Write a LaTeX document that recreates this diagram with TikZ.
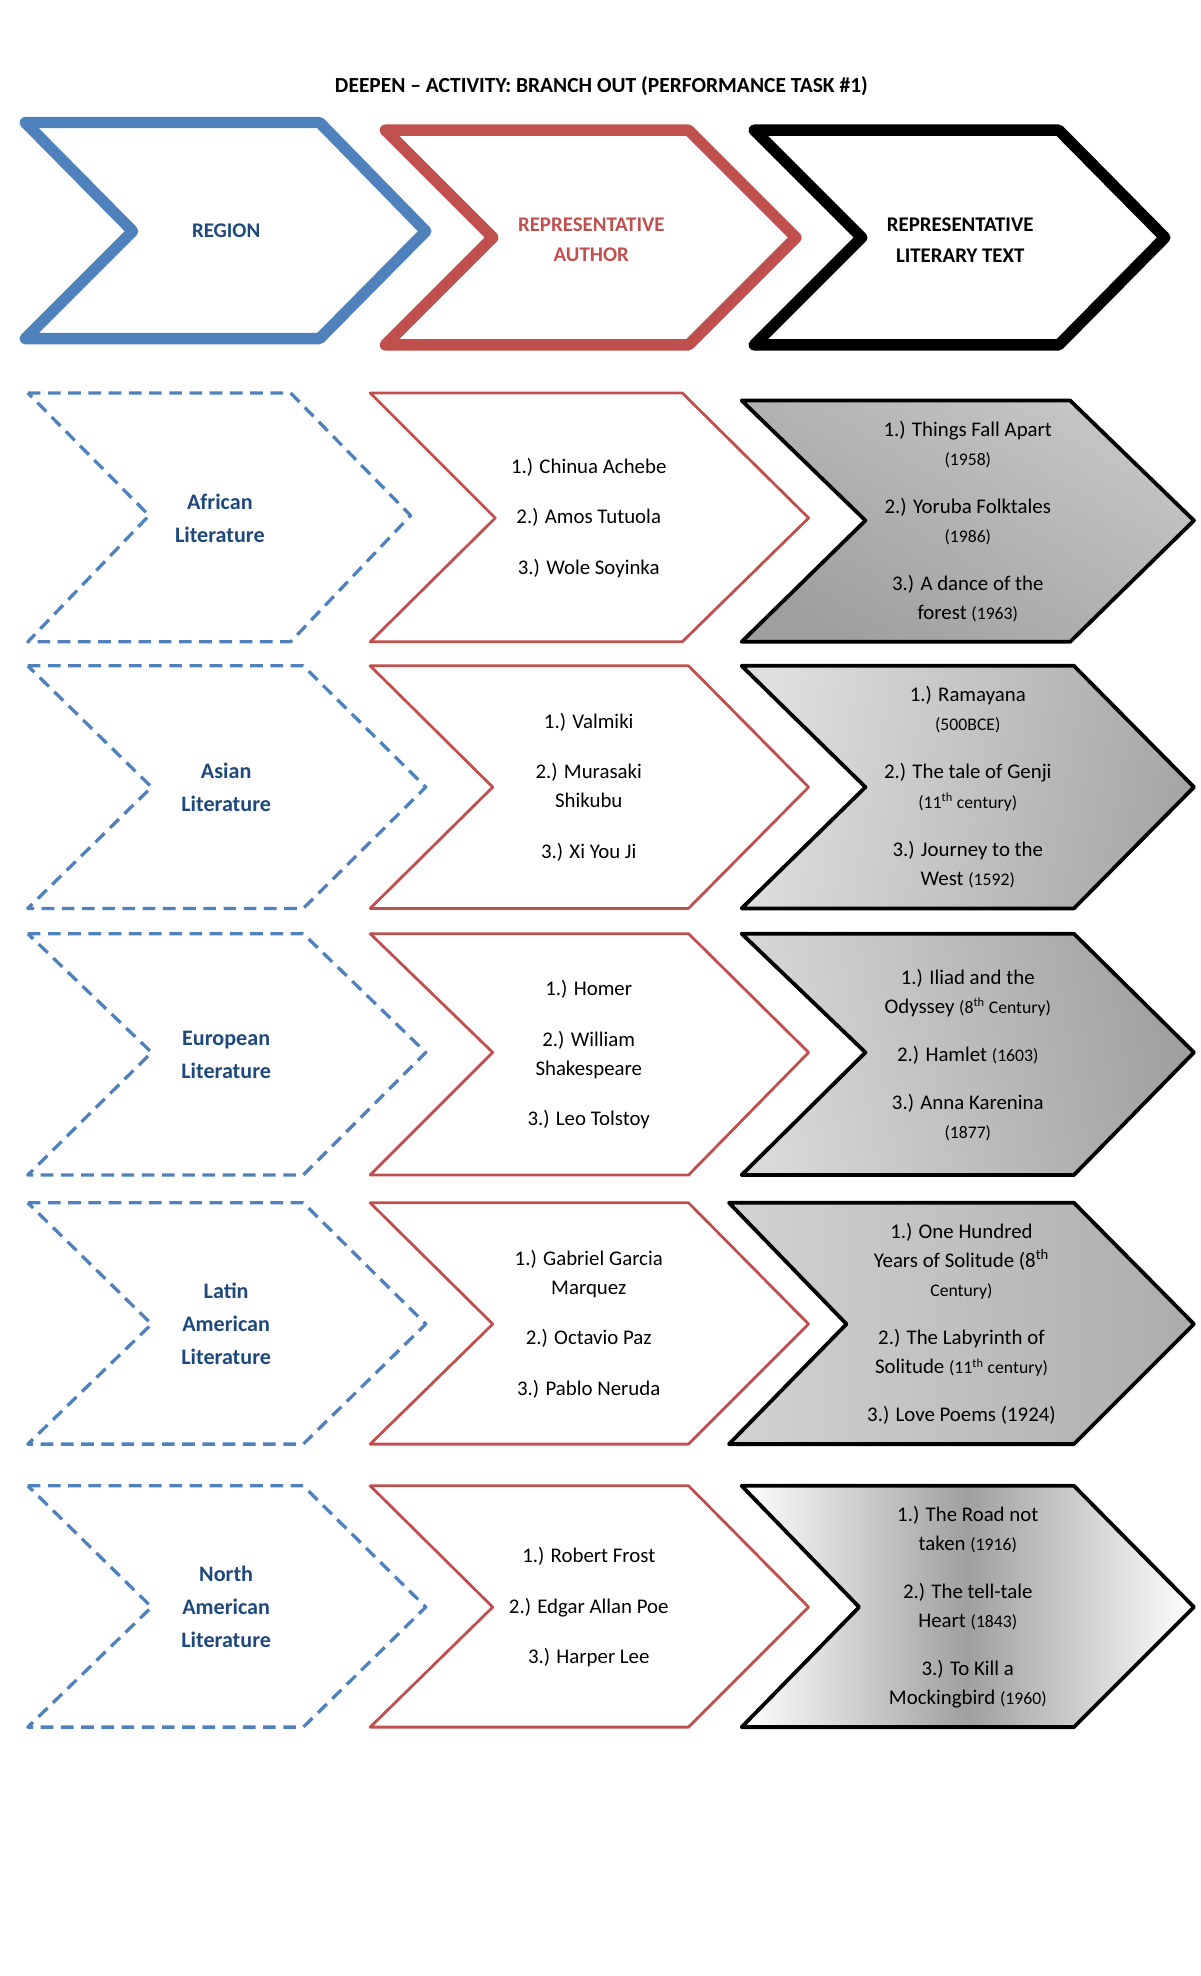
\documentclass[tikz,border=0pt]{standalone}
\usepackage{fontspec}
\setmainfont{Carlito}
\definecolor{hblue}{HTML}{4F81BD}
\definecolor{tblue}{HTML}{1F497D}
\definecolor{hred}{HTML}{C0504D}
\begin{document}
\begin{tikzpicture}[x=1pt,y=-1pt,line join=round,
  reg/.style={draw=hblue,line width=2.6pt,dash pattern=on 10pt off 6pt},
  aut/.style={draw=hred,line width=2.2pt},
  lit/.style={draw=black,line width=3pt},
  body/.style={font=\fontsize{16.5}{23}\selectfont,align=center},
  regt/.style={font=\fontsize{17.5}{26}\selectfont\bfseries,text=tblue,align=center}]
\newcommand{\sm}[1]{{\fontsize{14}{23}\selectfont #1}}
\useasboundingbox (0,0) rectangle (950,1564);
\node[font=\fontsize{17}{18}\selectfont\bfseries] (title) at (476,68) {DEEPEN – ACTIVITY: BRANCH OUT (PERFORMANCE TASK \#1)};
% headers
\draw[draw=hblue,line width=9pt] (20,97)--(253,97)--(337,183)--(253,268)--(20,268)--(105,183)--cycle;
\draw[draw=hred,line width=9pt] (305,103)--(545,103)--(630,188)--(545,273)--(305,273)--(390,188)--cycle;
\draw[draw=black,line width=9pt] (597,103)--(838,103)--(922,188)--(838,273)--(597,273)--(682,188)--cycle;
\node[font=\fontsize{16.5}{24}\selectfont\bfseries,text=tblue] (h1) at (179,183) {REGION};
\node[font=\fontsize{16.5}{24}\selectfont\bfseries,text=hred,align=center] (h2) at (468,190) {REPRESENTATIVE\\AUTHOR};
\node[font=\fontsize{16.5}{24}\selectfont\bfseries,align=center] (h3) at (760,190) {REPRESENTATIVE\\LITERARY TEXT};
% row 1
\draw[reg] (22,311)--(230,311)--(325,408)--(230,508)--(22,508)--(118,408)--cycle;
\draw[aut] (293,311)--(540,311)--(640,410)--(540,508)--(293,508)--(392,410)--cycle;
\path[lit,top color=gray!45,bottom color=gray!75,shading angle=-30] (587,317)--(847,317)--(945,412)--(847,508)--(587,508)--(685,412)--cycle;
\node[regt] (r1) at (174,410) {African\\Literature};
\node[body] (a1) at (466,410) {1.) Chinua Achebe\\[17pt]2.) Amos Tutuola\\[17pt]3.) Wole Soyinka};
\node[body] (t1) at (766,413) {1.) Things Fall Apart\\\sm{(1958)}\\[15pt]2.) Yoruba Folktales\\\sm{(1986)}\\[15pt]3.) A dance of the\\forest \sm{(1963)}};
% row 2
\draw[reg] (22,527)--(240,527)--(337,623)--(240,719)--(22,719)--(120,623)--cycle;
\draw[aut] (293,527)--(545,527)--(640,623)--(545,719)--(293,719)--(390,623)--cycle;
\path[lit,left color=gray!25,right color=gray!70,shading angle=80] (587,527)--(850,527)--(945,623)--(850,719)--(587,719)--(685,623)--cycle;
\node[regt] (r2) at (179,623) {Asian\\Literature};
\node[body] (a2) at (466,623) {1.) Valmiki\\[17pt]2.) Murasaki\\Shikubu\\[17pt]3.) Xi You Ji};
\node[body] (t2) at (766,623) {1.) Ramayana\\\sm{(500BCE)}\\[15pt]2.) The tale of Genji\\\sm{(11\textsuperscript{th} century)}\\[15pt]3.) Journey to the\\West \sm{(1592)}};
% row 3
\draw[reg] (22,739)--(240,739)--(337,833)--(240,930)--(22,930)--(120,833)--cycle;
\draw[aut] (293,739)--(545,739)--(640,833)--(545,930)--(293,930)--(390,833)--cycle;
\path[lit,left color=gray!75,right color=gray!30,shading angle=-80] (587,739)--(850,739)--(945,833)--(850,930)--(587,930)--(685,833)--cycle;
\node[regt] (r3) at (179,835) {European\\Literature};
\node[body] (a3) at (466,835) {1.) Homer\\[17pt]2.) William\\Shakespeare\\[17pt]3.) Leo Tolstoy};
\node[body] (t3) at (766,835) {1.) Iliad and the\\Odyssey \sm{(8\textsuperscript{th} Century)}\\[15pt]2.) Hamlet \sm{(1603)}\\[15pt]3.) Anna Karenina\\\sm{(1877)}};
% row 4
\draw[reg] (22,952)--(240,952)--(337,1048)--(240,1143)--(22,1143)--(120,1048)--cycle;
\draw[aut] (293,952)--(545,952)--(640,1048)--(545,1143)--(293,1143)--(390,1048)--cycle;
\path[lit,left color=gray!35,right color=gray!65] (577,952)--(850,952)--(945,1048)--(850,1143)--(577,1143)--(670,1048)--cycle;
\node[regt] (r4) at (179,1048) {Latin\\American\\Literature};
\node[body] (a4) at (466,1048) {1.) Gabriel Garcia\\Marquez\\[17pt]2.) Octavio Paz\\[17pt]3.) Pablo Neruda};
\node[body] (t4) at (761,1048) {1.) One Hundred\\Years of Solitude (8\textsuperscript{th}\\\sm{Century)}\\[15pt]2.) The Labyrinth of\\Solitude \sm{(11\textsuperscript{th} century)}\\[15pt]3.) Love Poems (1924)};
% row 5
\draw[reg] (22,1176)--(240,1176)--(337,1272)--(240,1367)--(22,1367)--(120,1272)--cycle;
\draw[aut] (293,1176)--(545,1176)--(640,1272)--(545,1367)--(293,1367)--(390,1272)--cycle;
\path[lit,left color=white,right color=white,middle color=gray!75] (587,1176)--(850,1176)--(945,1272)--(850,1367)--(587,1367)--(680,1272)--cycle;
\node[regt] (r5) at (179,1272) {North\\American\\Literature};
\node[body] (a5) at (466,1272) {1.) Robert Frost\\[17pt]2.) Edgar Allan Poe\\[17pt]3.) Harper Lee};
\node[body] (t5) at (766,1272) {1.) The Road not\\taken \sm{(1916)}\\[15pt]2.) The tell-tale\\Heart \sm{(1843)}\\[15pt]3.) To Kill a\\Mockingbird \sm{(1960)}};
\end{tikzpicture}
\end{document}
